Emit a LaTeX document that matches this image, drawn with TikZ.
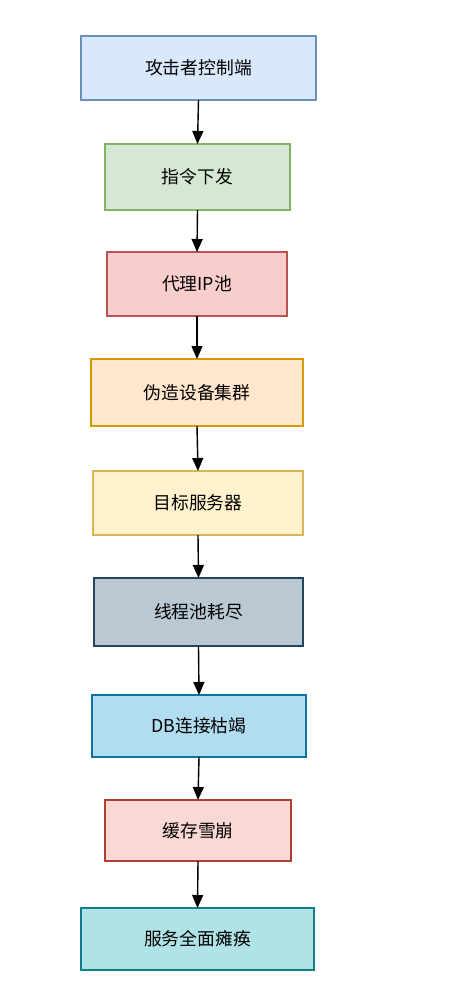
\documentclass[tikz,border=0pt]{standalone}
\usepackage{fontspec}
\setmainfont{Noto Sans CJK SC}
\usetikzlibrary{arrows.meta}
\definecolor{f1}{HTML}{DAE8FC}\definecolor{s1}{HTML}{6C8EBF}
\definecolor{f2}{HTML}{D5E8D4}\definecolor{s2}{HTML}{82B366}
\definecolor{f3}{HTML}{F8CECC}\definecolor{s3}{HTML}{B85450}
\definecolor{f4}{HTML}{FFE6CC}\definecolor{s4}{HTML}{D79B00}
\definecolor{f5}{HTML}{FFF2CC}\definecolor{s5}{HTML}{D6B656}
\definecolor{f6}{HTML}{BAC8D3}\definecolor{s6}{HTML}{23445D}
\definecolor{f7}{HTML}{B1DDF0}\definecolor{s7}{HTML}{10739E}
\definecolor{f8}{HTML}{FAD9D5}\definecolor{s8}{HTML}{AE4132}
\definecolor{f9}{HTML}{B0E3E6}\definecolor{s9}{HTML}{0E8088}
\tikzset{
  box/.style={draw, line width=2.6pt, inner sep=0pt, outer sep=0pt,
    font=\fontsize{17.8}{20}\selectfont, text=black},
  arr/.style={line width=1.4pt, -{Triangle[length=13pt,width=11pt]}}
}
\newcommand{\mybox}[8]{% name, x1, y1, x2, y2, fill, stroke, text
  \node[box, fill=#6, draw=#7, minimum width=#4pt-#2pt, minimum height=#5pt-#3pt]
    (#1) at ({(#2+#4)/2}, {-(#3+#5)/2}) {#8};}
\begin{document}
\begin{tikzpicture}[x=1pt,y=1pt]
\useasboundingbox[fill=white] (0,0) rectangle (448,-1008);
\mybox{b1}{81}{36}{316}{100}{f1}{s1}{攻击者控制端}
\mybox{b2}{105}{144}{290}{210}{f2}{s2}{指令下发}
\mybox{b3}{107}{252}{287}{316}{f3}{s3}{代理IP池}
\mybox{b4}{91}{359}{303}{426}{f4}{s4}{伪造设备集群}
\mybox{b5}{93}{471}{303}{535}{f5}{s5}{目标服务器}
\mybox{b6}{94}{578}{303}{646}{f6}{s6}{线程池耗尽}
\mybox{b7}{92}{695}{306}{757}{f7}{s7}{DB连接枯竭}
\mybox{b8}{105}{800}{291}{861}{f8}{s8}{缓存雪崩}
\mybox{b9}{81}{908}{314}{970}{f9}{s9}{服务全面瘫痪}
\foreach \a/\b in {b1/b2,b2/b3,b3/b4,b4/b5,b5/b6,b6/b7,b7/b8,b8/b9}
  \draw[arr] (\a.south) -- (\b.north);
\end{tikzpicture}
\end{document}
